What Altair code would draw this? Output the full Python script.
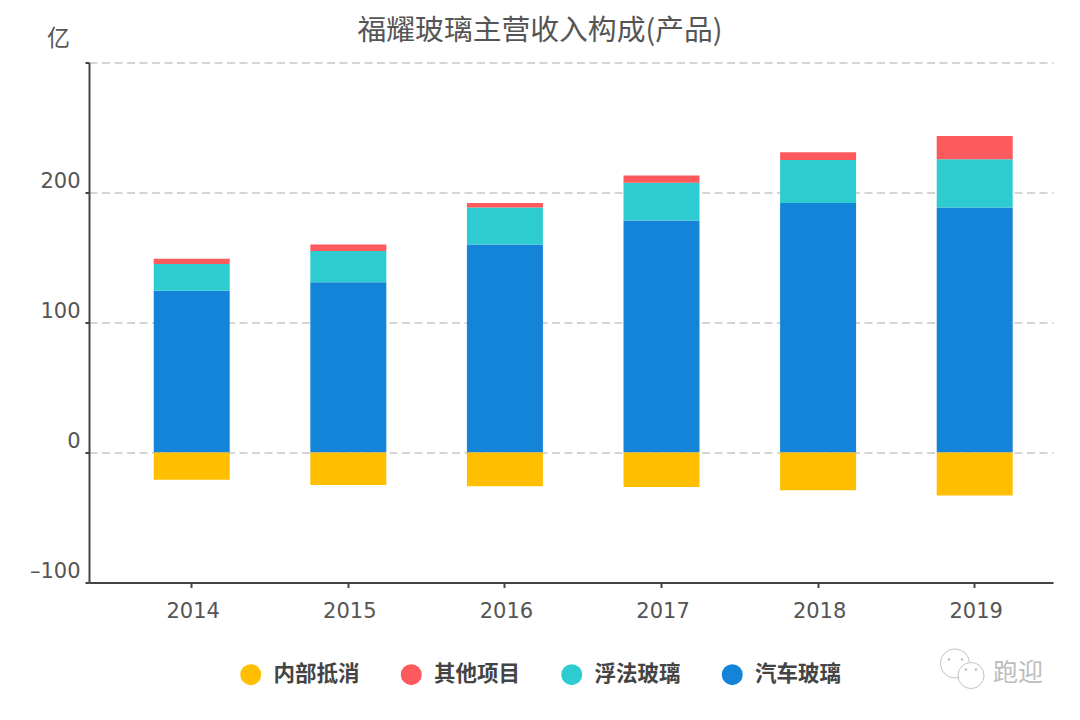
import altair as alt
import pandas as pd

years = ["2014", "2015", "2016", "2017", "2018", "2019"]
series_names = ["内部抵消", "其他项目", "浮法玻璃", "汽车玻璃"]
colors = ["#FFBF00", "#FD5A5E", "#2ECCD1", "#1484D8"]
neg_offset = [-21, -25, -26, -26.5, -29, -33]
other = [4, 5, 3.5, 5.5, 6, 18]
float_glass = [20.5, 24, 28.5, 29, 33, 37]
auto_glass = [124.5, 131, 160, 178.5, 192, 188.5]
y_ticks = [-100, 0, 100, 200, 300]
FONT = "DejaVu Sans"
CJK = "Noto Sans CJK SC"
TEXT = "#555555"
AXIS = "#444444"

rows = []
for name, stack_order, values in [
    ("汽车玻璃", 0, auto_glass),
    ("浮法玻璃", 1, float_glass),
    ("其他项目", 2, other),
    ("内部抵消", 3, neg_offset),
]:
    for y, v in zip(years, values):
        rows.append({"year": y, "series": name, "value": v, "o": stack_order})
df = pd.DataFrame(rows)

bars = alt.Chart(df).mark_bar(size=76).encode(
    x=alt.X(
        "year:N",
        title=None,
        sort=years,
        scale=alt.Scale(paddingInner=0, paddingOuter=0.078, align=1),
        axis=alt.Axis(
            labelAngle=0, labelFont=FONT, labelFontSize=21, labelColor=TEXT,
            labelPadding=13, labelOffset=1.5, tickSize=5, tickColor=AXIS, tickWidth=2,
            domainColor=AXIS, domainWidth=2, grid=False,
        ),
    ),
    y=alt.Y(
        "value:Q",
        stack="zero",
        scale=alt.Scale(domain=[-100, 300], nice=False),
        axis=alt.Axis(
            values=y_ticks,
            title="亿",
            titleAngle=0, titleX=-31, titleY=-24.5, titleAlign="center", titleBaseline="middle",
            titleFont=CJK, titleFontSize=23, titleFontWeight="normal", titleColor=TEXT,
            labelExpr="datum.value == 300 ? '' : replace(datum.label, '−', '–')",
            labelFont=FONT, labelFontSize=21, labelColor=TEXT,
            labelBaseline="bottom", labelOffset=-1, labelPadding=5,
            tickSize=4, tickColor=AXIS, tickWidth=2,
            domainColor=AXIS, domainWidth=2,
            grid=True, gridColor="#C8C8C8", gridDash=[8, 4.5], gridWidth=1.5,
        ),
    ),
    color=alt.Color(
        "series:N",
        scale=alt.Scale(domain=series_names, range=colors),
        legend=alt.Legend(
            title=None, orient="none", legendX=151, legendY=601, direction="horizontal",
            columns=4, columnPadding=40.5, symbolType="circle", symbolSize=441,
            symbolStrokeWidth=0, labelFont=CJK, labelFontSize=21.5, labelFontWeight="bold",
            labelColor="#444444", labelOffset=12, padding=0,
        ),
    ),
    order=alt.Order("o:Q"),
)

wm = pd.DataFrame({"t": ["跑迎"], "title": ["福耀玻璃主营收入构成(产品)"]})
wm_text = alt.Chart(wm).mark_text(
    font=CJK, fontSize=25, color="#BDBDBD", align="left", baseline="middle"
).encode(text="t:N", x=alt.value(904), y=alt.value(610))
title_text = alt.Chart(wm).mark_text(
    font=CJK, fontSize=28.8, color=TEXT, align="center", baseline="middle"
).encode(text="title:N", x=alt.value(451), y=alt.value(-32))


def bubble(x, y, size):
    return alt.Chart(wm).mark_point(
        shape="circle", size=size, filled=True, fill="white", stroke="#C4C4C4",
        strokeWidth=1, opacity=1,
    ).encode(x=alt.value(x), y=alt.value(y))


def eye(x, y):
    return alt.Chart(wm).mark_point(
        shape="circle", size=6, filled=True, fill="#BDBDBD", strokeWidth=0, opacity=1
    ).encode(x=alt.value(x), y=alt.value(y))


chart = alt.layer(
    bars,
    bubble(866, 601, 850),
    eye(860, 597),
    eye(873, 597),
    bubble(882, 613, 680),
    eye(877, 607),
    eye(887, 607),
    wm_text,
    title_text,
).properties(
    width=964,
    height=520,
    background="white",
    autosize=alt.AutoSizeParams(type="none"),
    padding={"left": 81, "top": 54.5, "right": 18, "bottom": 130},
).configure_view(stroke=None)

chart.save("out.html", embed_options={"renderer": "svg", "actions": False})
